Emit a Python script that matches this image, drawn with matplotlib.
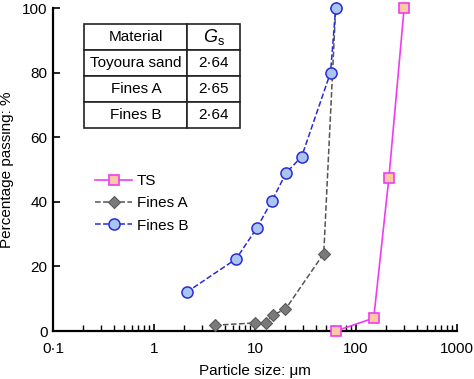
import matplotlib
matplotlib.use('Agg')
import matplotlib.pyplot as plt
from matplotlib.ticker import FixedLocator, LogLocator, NullFormatter

plt.rcParams['font.family'] = ['Liberation Sans', 'DejaVu Sans']
plt.rcParams['mathtext.fontset'] = 'custom'
plt.rcParams['mathtext.rm'] = 'Liberation Sans'
plt.rcParams['mathtext.it'] = 'Liberation Sans:italic'

# Grading data (particle size in um, % passing)
ts_size = [63, 150, 212, 300]
ts_pass = [0, 4, 47.5, 100]

finesA_size = [4, 10, 13, 15, 20, 48, 63]
finesA_pass = [1.8, 2.5, 2.5, 5, 6.7, 24, 100]

finesB_size = [2.1, 6.5, 10.5, 14.7, 20.4, 29, 56, 63]
finesB_pass = [12, 22.3, 32, 40.3, 49, 54, 80, 100]

# Specific gravity table
materials = ['Toyoura sand', 'Fines A', 'Fines B']
gs_values = ['2·64', '2·65', '2·64']

x_ticks = [0.1, 1, 10, 100, 1000]
x_labels = ['0·1', '1', '10', '100', '1000']
y_ticks = [0, 20, 40, 60, 80, 100]

fig = plt.figure(figsize=(4.74, 3.79), dpi=100)
ax = fig.add_axes([0.1118, 0.1266, 0.8522, 0.8522])

ax.plot(ts_size, ts_pass, '-', color='#f03cf0', lw=1.2, marker='s', ms=7.5,
        mfc='#fbc9a4', mec='#f03cf0', mew=1.2, label='TS', clip_on=False, zorder=4)
ax.plot(finesA_size, finesA_pass, '--', color='#555555', lw=1.1, marker='D', ms=6.5,
        mfc='#7a7a7a', mec='#5a5a5a', mew=0.8, label='Fines A', clip_on=False, zorder=3)
ax.plot(finesB_size, finesB_pass, '--', color='#2b2bd6', lw=1.1, marker='o', ms=8,
        mfc='#a9c6ef', mec='#2b2bd6', mew=1.1, label='Fines B', clip_on=False, zorder=3)

ax.set_xscale('log')
ax.set_xlim(0.1, 1000)
ax.set_ylim(0, 100)
ax.xaxis.set_major_locator(FixedLocator(x_ticks))
ax.set_xticklabels(x_labels)
ax.xaxis.set_minor_locator(LogLocator(base=10, subs=range(2, 10)))
ax.xaxis.set_minor_formatter(NullFormatter())
ax.set_yticks(y_ticks)

for side in ['top', 'right']:
    ax.spines[side].set_visible(False)
for side in ['left', 'bottom']:
    ax.spines[side].set_linewidth(1.6)

ax.tick_params(axis='both', which='major', direction='in', length=5, width=1.2,
               labelsize=11, pad=4)
ax.tick_params(axis='x', which='major', pad=8)
ax.tick_params(axis='x', which='minor', direction='in', length=4, width=1.0)

ax.set_xlabel('Particle size: μm', fontsize=11, labelpad=6)
ax.set_ylabel('Percentage passing: %', fontsize=11, labelpad=6)

leg = ax.legend(loc='upper left', bbox_to_anchor=(0.09, 0.505), frameon=False,
                fontsize=11, handlelength=2.4, handletextpad=0.3, labelspacing=0.55,
                borderaxespad=0)

# Table drawn inside the axes
cells = [['Material', r'$G_\mathrm{s}$']] + [[m, g] for m, g in zip(materials, gs_values)]
tbl = ax.table(cellText=cells, bbox=[0.0775, 0.6276, 0.3855, 0.322],
               colWidths=[0.662, 0.338], cellLoc='center')
tbl.auto_set_font_size(False)
tbl.set_fontsize(11)
for (row, col), cell in tbl.get_celld().items():
    cell.set_linewidth(1.2)
    cell.set_edgecolor('#222222')
    if row == 0 and col == 1:
        cell.get_text().set_fontsize(13)

fig.savefig('out.png', dpi=100)
